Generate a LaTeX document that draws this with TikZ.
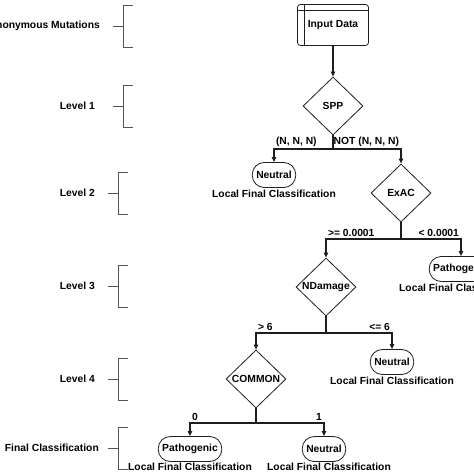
\documentclass[tikz,border=0pt]{standalone}
\usepackage{fontspec}
\setmainfont{Liberation Sans}
\usetikzlibrary{shapes.geometric, arrows.meta, positioning}
\definecolor{ink}{RGB}{30, 30, 30}
\definecolor{rail}{RGB}{85, 85, 85}

\begin{document}
\begin{tikzpicture}[x=1pt, y=-1pt,
    font=\bfseries\fontsize{10.3}{12}\selectfont,
    flow/.style={draw=ink, line width=1.1pt},
    arr/.style={flow, -{Triangle[length=5pt, width=4.5pt]}},
    test/.style={diamond, draw=ink, line width=0.8pt, inner sep=0pt,
                 minimum width=60pt, minimum height=58pt},
    term/.style={rectangle, rounded corners=12pt, draw=ink, line width=0.8pt,
                 inner xsep=4pt, minimum height=25pt},
    lab/.style={inner sep=1.5pt},
    rest/.style={inner sep=1pt}]
    \useasboundingbox (0,0) rectangle (474,474);

    % Levels on the left
    \foreach \y/\xb/\xt/\txt in {26/123/100/Nonsynonymous Mutations, 106/123/95/Level 1,
                                 193/118/95/Level 2, 286/118/95/Level 3,
                                 379/118/95/Level 4, 448/118/99/Final Classification} {
        \draw[rail, line width=1pt] (\xb+10,\y-21) -- (\xb,\y-21) -- (\xb,\y+21) -- (\xb+10,\y+21)
            (\xb-10,\y) -- (\xb,\y);
        \node[anchor=east, inner sep=0pt] (lvl\y) at (\xt,\y) {\txt};
    }

    % Input
    \node[rectangle, rounded corners=3pt, draw=ink, line width=0.8pt,
          minimum width=71pt, minimum height=41pt] (input) at (333,25) {Input Data};
    \draw[ink, line width=0.8pt] ([xshift=7pt]input.north west) -- ([xshift=7pt]input.south west)
        ([yshift=-6pt]input.north west) -- ([yshift=-6pt]input.north east);

    % Level 1
    \node[test] (spp) at (333,106) {\makebox[0pt]{SPP}};
    \draw[arr] (input) -- (spp);

    % Level 2
    \node[term] (neu1) at (274,175) {Neutral};
    \node[rest, below=1pt of neu1] (loc1) {Local Final Classification};
    \node[test] (exac) at (401,193) {\makebox[0pt]{ExAC}};
    \draw[flow] (spp.south) -- (333,149) coordinate (sp1);
    \draw[arr] (sp1) -| node[pos=0.5, anchor=south west, lab] {(N, N, N)} (neu1);
    \draw[arr] (sp1) -| node[pos=0.5, anchor=south east, lab] {NOT (N, N, N)} (exac);

    % Level 3
    \node[test] (ndam) at (326,287) {\makebox[0pt]{NDamage}};
    \node[term] (path1) at (461,269) {Pathogenic};
    \node[rest, below=1pt of path1] (loc2) {Local Final Classification};
    \draw[flow] (exac.south) -- (401,239) coordinate (sp2);
    \draw[arr] (sp2) -| node[pos=0.5, anchor=south west, lab] {>= 0.0001} (ndam);
    \draw[arr] (sp2) -| node[pos=0.5, anchor=south east, lab] {< 0.0001} (path1);

    % Level 4
    \node[test] (common) at (256,379) {\makebox[0pt]{COMMON}};
    \node[term] (neu2) at (392,362) {Neutral};
    \node[rest, below=1pt of neu2] (loc3) {Local Final Classification};
    \draw[flow] (ndam.south) -- (326,333) coordinate (sp3);
    \draw[arr] (sp3) -| node[pos=0.5, anchor=south west, lab] {> 6} (common);
    \draw[arr] (sp3) -| node[pos=0.5, anchor=south east, lab] {<= 6} (neu2);

    % Final classification
    \node[term] (path2) at (190,449) {Pathogenic};
    \node[rest, below=0pt of path2] (loc4) {Local Final Classification};
    \node[term] (neu3) at (324,449) {Neutral};
    \node[rest, below=0pt of neu3, xshift=5pt] (loc5) {Local Final Classification};
    \draw[flow] (common.south) -- (256,423) coordinate (sp4);
    \draw[arr] (sp4) -| node[pos=0.5, anchor=south west, lab] {0} (path2);
    \draw[arr] (sp4) -| node[pos=0.5, anchor=south east, lab] {1} (neu3);
\end{tikzpicture}
\end{document}
